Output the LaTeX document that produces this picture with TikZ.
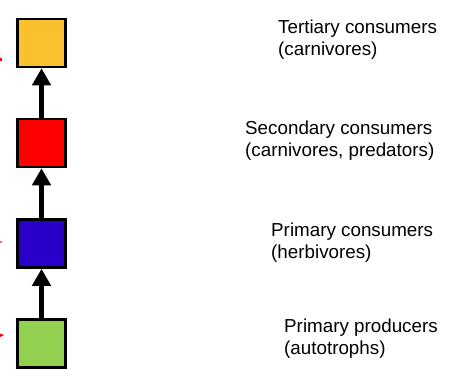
\documentclass[tikz,border=0pt]{standalone}
\usepackage{fontspec}
\setmainfont{Liberation Sans}
\usetikzlibrary{arrows.meta}

\definecolor{tertcol}{RGB}{251,192,45}
\definecolor{seccol}{RGB}{255,0,0}
\definecolor{primcol}{RGB}{40,0,200}
\definecolor{prodcol}{RGB}{146,208,80}

\tikzset{
  level/.style={draw=black,line width=2.5pt,minimum size=48pt,inner sep=0pt},
  feed/.style={line width=5.5pt,-{Triangle[width=18pt,length=17pt]}},
  label/.style={anchor=west,align=left,inner sep=0pt,
    font=\fontsize{18.8pt}{22pt}\selectfont}
}

\begin{document}
\begin{tikzpicture}[x=1pt,y=-1pt]
\useasboundingbox (0,0) rectangle (474,389);
\fill[white] (0,0) rectangle (474,389);
% trophic levels
\node[level,fill=tertcol] at (41.5,43) (tert) {};
\node[level,fill=seccol] at (41.5,143) (sec) {};
\node[level,fill=primcol] at (41.5,243.5) (prim) {};
\node[level,fill=prodcol] at (41.5,343.5) (prod) {};
\draw[feed] (prod) -- (prim);
\draw[feed] (prim) -- (sec);
\draw[feed] (sec) -- (tert);
% labels
\node[label] at (278,40) (tert-l) {Tertiary consumers\\(carnivores)};
\node[label] at (245,141) (sec-l) {Secondary consumers\\(carnivores, predators)};
\node[label] at (271,243) (prim-l) {Primary consumers\\(herbivores)};
\node[label] at (284,339) (prod-l) {Primary producers\\(autotrophs)};
% red marks cut at the edge
\fill[red] (0,57.5) rectangle (2,60.5);
\fill[red!60] (0,241) rectangle (2,243);
\fill[red] (0,333.5) -- (4,335) -- (0,337) -- cycle;
\end{tikzpicture}
\end{document}
